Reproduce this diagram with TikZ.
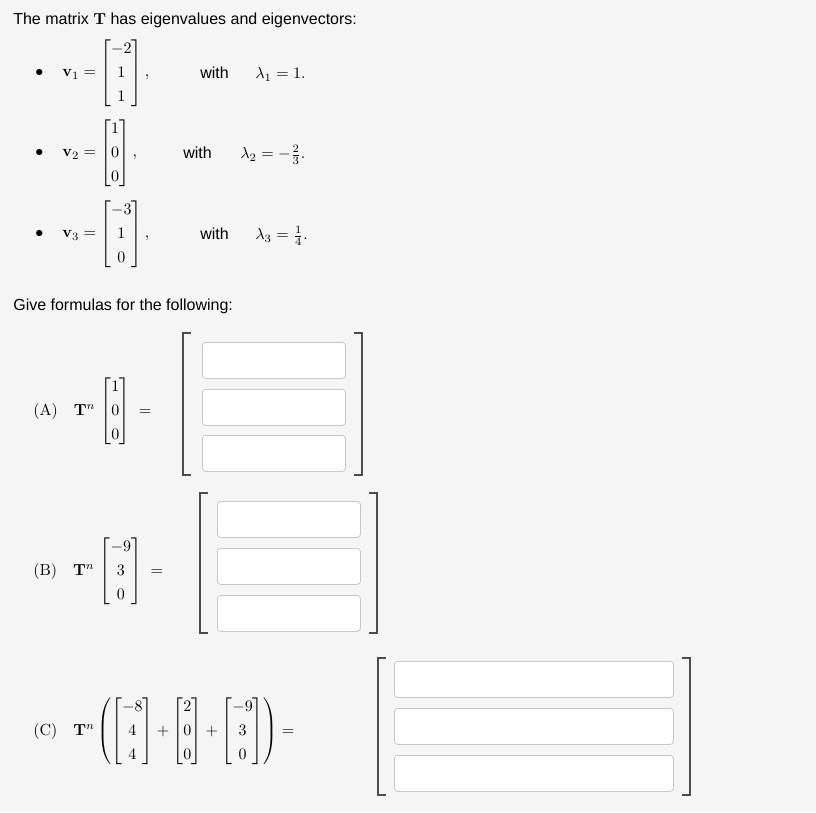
\documentclass[tikz,border=0pt]{standalone}
\usepackage{amsmath}
\usepackage[no-math]{fontspec}
\setmainfont{Liberation Sans}
\tikzset{
 txt/.style={anchor=base west,inner sep=0pt,font=\normalsize},
 mrow/.style={anchor=west,inner sep=0pt,font=\normalsize\renewcommand\arraystretch{1.25}},
 ansbox/.style={draw=black!22,fill=white,rounded corners=2pt,line width=0.5pt},
 brk/.style={draw=black!70,line width=0.7pt},
}
\newcommand{\bigbrk}[4]{% x1 x2 ytop ybot
 \draw[brk] (#1+8,#3)--(#1,#3)--(#1,#4)--(#1+8,#4);
 \draw[brk] (#2-8,#3)--(#2,#3)--(#2,#4)--(#2-8,#4);}
\begin{document}
\begin{tikzpicture}[x=0.625pt,y=-0.625pt]
\fill[black!4] (0,0) rectangle (816,812);
\useasboundingbox (0,0) rectangle (816,812);
\node[txt] (title) at (13,25) {The matrix $\mathbf{T}$ has eigenvalues and eigenvectors:};
% v rows
\foreach \y/\n in {73/1,153/2,234/3}{\node[mrow] (b\n) at (35,\y) {$\bullet$};}
\node[mrow] (v1) at (62,73) {$\mathbf v_1=\begin{bmatrix}-2\\1\\1\end{bmatrix},$};
\node[txt] (w1) at (200,79) {with};
\node[txt] (l1) at (255,79) {$\lambda_1=1.$};
\node[mrow] (v2) at (62,153) {$\mathbf v_2=\begin{bmatrix}1\\0\\0\end{bmatrix},$};
\node[txt] (w2) at (183,159) {with};
\node[txt] (l2) at (240,159) {$\lambda_2=-\frac{2}{3}.$};
\node[mrow] (v3) at (62,234) {$\mathbf v_3=\begin{bmatrix}-3\\1\\0\end{bmatrix},$};
\node[txt] (w3) at (200,240) {with};
\node[txt] (l3) at (255,240) {$\lambda_3=\frac{1}{4}.$};
\node[txt] (give) at (13,311) {Give formulas for the following:};
% A
\node[mrow] (A) at (33,411) {$(\mathrm{A})\quad \mathbf T^n\,\begin{bmatrix}1\\0\\0\end{bmatrix}\;=$};
\bigbrk{183}{362}{333}{475}
\node[ansbox,minimum width=89.4pt,minimum height=22.5pt,anchor=north west] (a1) at (202,342) {};
\node[ansbox,minimum width=89.4pt,minimum height=22.5pt,anchor=north west] (a2) at (202,389) {};
\node[ansbox,minimum width=89.4pt,minimum height=22.5pt,anchor=north west] (a3) at (202,435) {};
% B
\node[mrow] (B) at (33,571) {$(\mathrm{B})\quad \mathbf T^n\,\begin{bmatrix}-9\\3\\0\end{bmatrix}\;=$};
\bigbrk{200}{377}{493}{633}
\node[ansbox,minimum width=89.4pt,minimum height=22.5pt,anchor=north west] (b1x) at (217,501) {};
\node[ansbox,minimum width=89.4pt,minimum height=22.5pt,anchor=north west] (b2x) at (217,548) {};
\node[ansbox,minimum width=89.4pt,minimum height=22.5pt,anchor=north west] (b3x) at (217,595) {};
% C
\node[mrow] (C) at (33,731) {$(\mathrm{C})\quad \mathbf T^n\left(\begin{bmatrix}-8\\4\\4\end{bmatrix}+\begin{bmatrix}2\\0\\0\end{bmatrix}+\begin{bmatrix}-9\\3\\0\end{bmatrix}\right)=$};
\bigbrk{378}{690}{658}{795}
\node[ansbox,minimum width=174.4pt,minimum height=22.5pt,anchor=north west] (c1) at (394,661) {};
\node[ansbox,minimum width=174.4pt,minimum height=22.5pt,anchor=north west] (c2) at (394,708) {};
\node[ansbox,minimum width=174.4pt,minimum height=22.5pt,anchor=north west] (c3) at (394,755) {};
\end{tikzpicture}
\end{document}
